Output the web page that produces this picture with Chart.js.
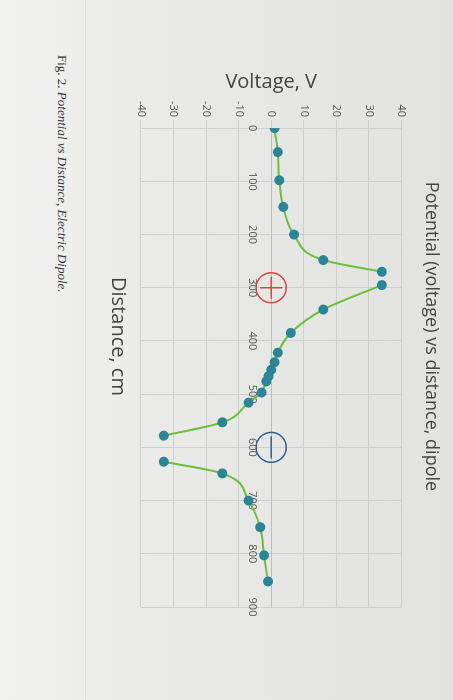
<!DOCTYPE html>
<html>
<head>
<meta charset="utf-8">
<script src="https://cdn.jsdelivr.net/npm/chart.js@4"></script>
<style>
  body { margin: 0; width: 453px; height: 700px; overflow: hidden;
    background: linear-gradient(90deg, #f1f1ef 0%, #e9e9e7 40%, #e2e2e0 100%); position: relative; }
  #rule { position: absolute; left: 85px; top: 0; width: 1px; height: 700px; background: #dcdcda; }
  #wrap { position: absolute; left: 0; top: 0; width: 620px; height: 370px;
    transform-origin: 0 0; transform: translate(460px, 40px) rotate(90deg); }
  #caption { position: absolute; left: 0; top: 0; white-space: nowrap;
    font: 13px "Liberation Serif", serif; color: #333;
    transform-origin: 0 0; transform: translate(70px, 55px) rotate(90deg); }
</style>
</head>
<body>
<div id="rule"></div>
<div id="wrap"><canvas id="chart" width="620" height="370"></canvas></div>
<div id="caption">Fig. 2. <i>Potential vs Distance, Electric Dipole.</i></div>
<script>
// distance (cm) and measured potential (V); null marks the breaks at the charges
const distances = [0, 45, 98, 148, 200, 248, 270, null, 295, 341, 385, 422, 440, 454, 466, 476, 497, 516, 553, 578, null, 627, 649, 700, 750, 803, 852];
const voltages = [1, 2, 2.5, 3.7, 7, 16, 34, null, 34, 16, 6, 2, 1, 0, -0.8, -1.5, -3, -7, -15, -33, null, -33, -15, -7, -3.4, -2.2, -1];
const distanceTicks = [0, 100, 200, 300, 400, 500, 600, 700, 800, 900];
const charges = [
  { x: 300, sign: '+', color: '#d9453f' },
  { x: 600, sign: '-', color: '#2f5f8f' },
];

const chargePlugin = {
  id: 'charges',
  afterDatasetsDraw: (chart) => {
    const ctx = chart.ctx;
    charges.forEach((c) => {
      const px = chart.scales.x.getPixelForValue(c.x);
      const py = chart.scales.y.getPixelForValue(0);
      ctx.save();
      ctx.strokeStyle = c.color;
      ctx.lineWidth = 1.5;
      ctx.beginPath();
      ctx.arc(px, py, 15, 0, Math.PI * 2);
      ctx.stroke();
      ctx.beginPath();
      ctx.moveTo(px - 11, py);
      ctx.lineTo(px + 11, py);
      if (c.sign === '+') {
        ctx.moveTo(px, py - 11);
        ctx.lineTo(px, py + 11);
      }
      ctx.stroke();
      ctx.restore();
    });
  },
};

new Chart(document.getElementById('chart'), {
  type: 'line',
  data: {
    datasets: [{
      data: distances.map((d, i) => (d === null ? { x: NaN, y: null } : { x: d, y: voltages[i] })),
      borderColor: '#6cbf3a',
      borderWidth: 2,
      backgroundColor: '#2b8596',
      pointBackgroundColor: '#2b8596',
      pointBorderColor: '#2b8596',
      pointRadius: 4,
      cubicInterpolationMode: 'monotone',
      spanGaps: false,
    }],
  },
  plugins: [chargePlugin],
  options: {
    responsive: false,
    animation: false,
    layout: { padding: { left: 26, right: 53, top: 0, bottom: 0 } },
    scales: {
      x: {
        type: 'linear',
        min: 0,
        max: 900,
        position: { y: 0 },
        afterBuildTicks: (axis) => { axis.ticks = distanceTicks.map((v) => ({ value: v })); },
        ticks: { color: '#555', font: { size: 11, family: 'Open Sans' }, padding: 4 },
        grid: { color: '#cfcfcf' },
        border: { color: '#bdbdbd' },
        title: { display: false },
      },
      y: {
        min: -40,
        max: 40,
        ticks: { stepSize: 10, color: '#555', font: { size: 11, family: 'Open Sans' } },
        grid: { color: '#cfcfcf' },
        border: { display: false },
        title: { display: true, text: 'Voltage, V', color: '#444', font: { size: 20, family: 'Open Sans' } },
      },
    },
    plugins: {
      legend: { display: false },
      tooltip: { enabled: false },
      title: {
        display: true,
        text: 'Potential (voltage) vs distance, dipole',
        color: '#444',
        font: { size: 18, family: 'Open Sans', weight: 'normal' },
        padding: { top: 18, bottom: 19 },
      },
      subtitle: {
        display: true,
        position: 'bottom',
        text: 'Distance, cm',
        color: '#444',
        font: { size: 20, family: 'Open Sans' },
        padding: { top: 11, bottom: 16 },
      },
    },
  },
});
</script>
</body>
</html>
